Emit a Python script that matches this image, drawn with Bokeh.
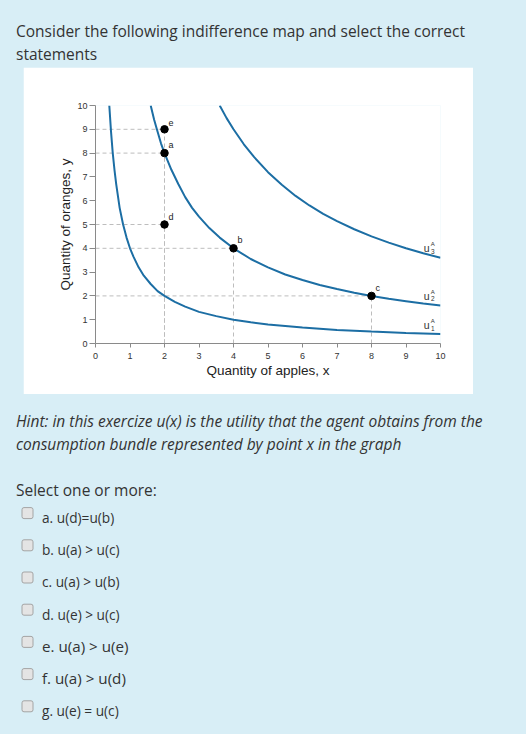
from bokeh.plotting import figure
from bokeh.layouts import column, row
from bokeh.models import Range1d, FixedTicker, ColumnDataSource
from bokeh.core.properties import value
from bokeh.embed import file_html
from bokeh.resources import INLINE

# ---------------- data ----------------
title_lines = ["Consider the following indifference map and select the correct", "statements"]
hint_lines = ["Hint: in this exercize u(x) is the utility that the agent obtains from the",
              "consumption bundle represented by point x in the graph"]
select_text = "Select one or more:"
options = ["a. u(d)=u(b)", "b. u(a) > u(c)", "c. u(a) > u(b)", "d. u(e) > u(c)",
           "e. u(a) > u(e)", "f. u(a) > u(d)", "g. u(e) = u(c)"]
option_sizes = ["13.7px", "13.7px", "13.7px", "13.7px", "15.2px", "15.2px", "13.7px"]

x_ticks = [0, 1, 2, 3, 4, 5, 6, 7, 8, 9, 10]
y_ticks = [0, 1, 2, 3, 4, 5, 6, 7, 8, 9, 10]

u1_x = [0.40, 0.45, 0.50, 0.55, 0.60, 0.70, 0.80, 0.90, 1.0, 1.1, 1.25, 1.4, 1.6, 1.8, 2.0,
        2.3, 2.6, 3.0, 3.5, 4.0, 4.5, 5.0, 6.0, 7.0, 8.0, 9.0, 10.0]
u1_y = [10.0, 8.9, 8.0, 7.3, 6.7, 5.7, 5.0, 4.45, 4.0, 3.65, 3.2, 2.85, 2.5, 2.2, 2.0,
        1.75, 1.55, 1.33, 1.15, 1.0, 0.89, 0.8, 0.67, 0.57, 0.5, 0.44, 0.4]
u2_x = [1.6, 1.7, 1.8, 1.9, 2.0, 2.2, 2.4, 2.6, 2.8, 3.0, 3.3, 3.6, 4.0, 4.5, 5.0, 5.5,
        6.0, 6.5, 7.0, 7.5, 8.0, 8.5, 9.0, 9.5, 10.0]
u2_y = [10.0, 9.4, 8.9, 8.4, 8.0, 7.3, 6.7, 6.15, 5.7, 5.33, 4.85, 4.45, 4.0, 3.55, 3.2, 2.9,
        2.67, 2.46, 2.29, 2.13, 2.0, 1.88, 1.78, 1.68, 1.6]
u3_x = [3.6, 3.8, 4.0, 4.3, 4.6, 5.0, 5.4, 5.8, 6.2, 6.6, 7.0, 7.5, 8.0, 8.5, 9.0, 9.5, 10.0]
u3_y = [10.0, 9.47, 9.0, 8.37, 7.83, 7.2, 6.67, 6.2, 5.8, 5.45, 5.14, 4.8, 4.5, 4.24, 4.0, 3.79, 3.6]

pt_names = ["e", "a", "d", "b", "c"]
pt_x = [2, 2, 2, 4, 8]
pt_y = [9, 8, 5, 4, 2]

curve_label_x = [9.6, 9.6, 9.6]
curve_label_y = [0.76, 2.0, 4.0]
curve_label_sub = ["1", "2", "3"]

# ---------------- styles ----------------
BG = "#d8eef6"
TXT = "#333333"
CURVE = "#1c6ea4"
FONT = value("Open Sans")
CFONT = "Liberation Sans"

W = 526
TOP_H = 67
CH_H = 327
BOT_H = 734 - TOP_H - CH_H
BOX_L = 23
BOX_W = 450
BOX_R = W - BOX_L - BOX_W


def blank(w, h, x0=0):
    f = figure(width=w, height=h, x_range=Range1d(x0, x0 + w), y_range=Range1d(h, 0),
               x_axis_type=None, y_axis_type=None, output_backend="svg",
               toolbar_location=None, min_border=0, background_fill_color=BG,
               border_fill_color=BG, outline_line_color=None)
    f.grid.visible = False
    return f


# ---- top text ----
top = blank(W, TOP_H)
top.text(x=[15.5, 15.5], y=[30, 53], text=title_lines, text_font=FONT,
         text_font_size="15.5px", text_color=TXT, text_baseline="alphabetic", text_align="left")

# ---- chart ----
p = figure(width=BOX_W, height=CH_H, x_range=Range1d(0, 10), y_range=Range1d(0, 10),
           min_border_left=72, min_border_right=33, min_border_top=38, min_border_bottom=51,
           background_fill_color="white", border_fill_color="white", outline_line_color=None,
           output_backend="svg", toolbar_location=None)
p.grid.visible = False

for ax, ticks in ((p.xaxis, x_ticks), (p.yaxis, y_ticks)):
    ax.ticker = FixedTicker(ticks=ticks)
    ax.axis_line_color = "#8a8a8a"
    ax.major_tick_line_color = "#8a8a8a"
    ax.minor_tick_line_color = None
    ax.major_tick_in = 0
    ax.major_label_text_font = CFONT
    ax.major_label_text_font_size = "9px"
    ax.major_label_text_color = "#333333"
    ax.axis_label_text_font = CFONT
    ax.axis_label_text_font_size = "13.5px"
    ax.axis_label_text_font_style = "normal"
    ax.axis_label_text_color = "#222222"

p.xaxis.major_tick_out = 4
p.xaxis.major_label_standoff = 5
p.xaxis.axis_label = "Quantity of apples, x"
p.xaxis.axis_label_standoff = 1
p.yaxis.major_tick_out = 6
p.yaxis.major_label_standoff = 2
p.yaxis.axis_label = "Quantity of oranges, y"
p.yaxis.axis_label_standoff = 1

# dashed guide lines
p.segment(x0=[0] * len(pt_x), y0=pt_y, x1=pt_x, y1=pt_y, line_color="#bdbdbd",
          line_width=1, line_dash="4 3")
p.segment(x0=pt_x, y0=[0] * len(pt_x), x1=pt_x, y1=pt_y, line_color="#bdbdbd",
          line_width=1, line_dash="4 3")

for cx, cy in ((u1_x, u1_y), (u2_x, u2_y), (u3_x, u3_y)):
    p.line(cx, cy, line_color=CURVE, line_width=2)

pts = ColumnDataSource(dict(x=pt_x, y=pt_y, name=pt_names))
p.scatter("x", "y", source=pts, size=7.5, color="black")
p.text("x", "y", text="name", source=pts, x_offset=4, y_offset=-3,
       text_font=value(CFONT), text_font_size="9px", text_color="#222222",
       text_baseline="bottom", text_align="left")

p.text(curve_label_x, curve_label_y, text=["u"] * 3, text_font=value(CFONT),
       text_font_size="10.5px", text_color="#333333", text_baseline="middle", text_align="center")
p.text(curve_label_x, curve_label_y, text=["A"] * 3, x_offset=6, y_offset=-4,
       text_font=value(CFONT), text_font_size="6px", text_color="#333333",
       text_baseline="middle", text_align="center")
p.text(curve_label_x, curve_label_y, text=curve_label_sub, x_offset=6, y_offset=3,
       text_font=value(CFONT), text_font_size="6.5px", text_color="#333333",
       text_baseline="middle", text_align="center")

left_sp = blank(BOX_L, CH_H, 0)
right_sp = blank(BOX_R, CH_H, BOX_L + BOX_W)
mid = row(left_sp, p, right_sp, spacing=0, styles={"background-color": BG})

# ---- bottom text ----
bot = blank(W, BOT_H)
oy = TOP_H + CH_H
bot.text(x=[15.5, 15.5], y=[420 - oy, 443 - oy], text=hint_lines, text_font=FONT,
         text_font_style="italic", text_font_size="15.5px", text_color=TXT,
         text_baseline="alphabetic", text_align="left")
bot.text(x=[15.5], y=[489 - oy], text=[select_text], text_font=FONT, text_font_size="15.5px",
         text_color=TXT, text_baseline="alphabetic", text_align="left")

box_y = [512.6 - oy + 32.2 * i for i in range(len(options))]
bot.rect(x=[27] * len(options), y=box_y, width=11, height=11, fill_color="#e4e4e4",
         line_color="#a4a4a4", line_width=1, border_radius=2)
for i, (lab, fs) in enumerate(zip(options, option_sizes)):
    bot.text(x=[41.5], y=[box_y[i] + 4.3], text=[lab], text_font=FONT, text_font_size=fs,
             text_color=TXT, text_baseline="alphabetic", text_align="left")

layout = column(top, mid, bot, spacing=0, styles={"background-color": BG})

open("out.html", "w").write(file_html(layout, INLINE))
